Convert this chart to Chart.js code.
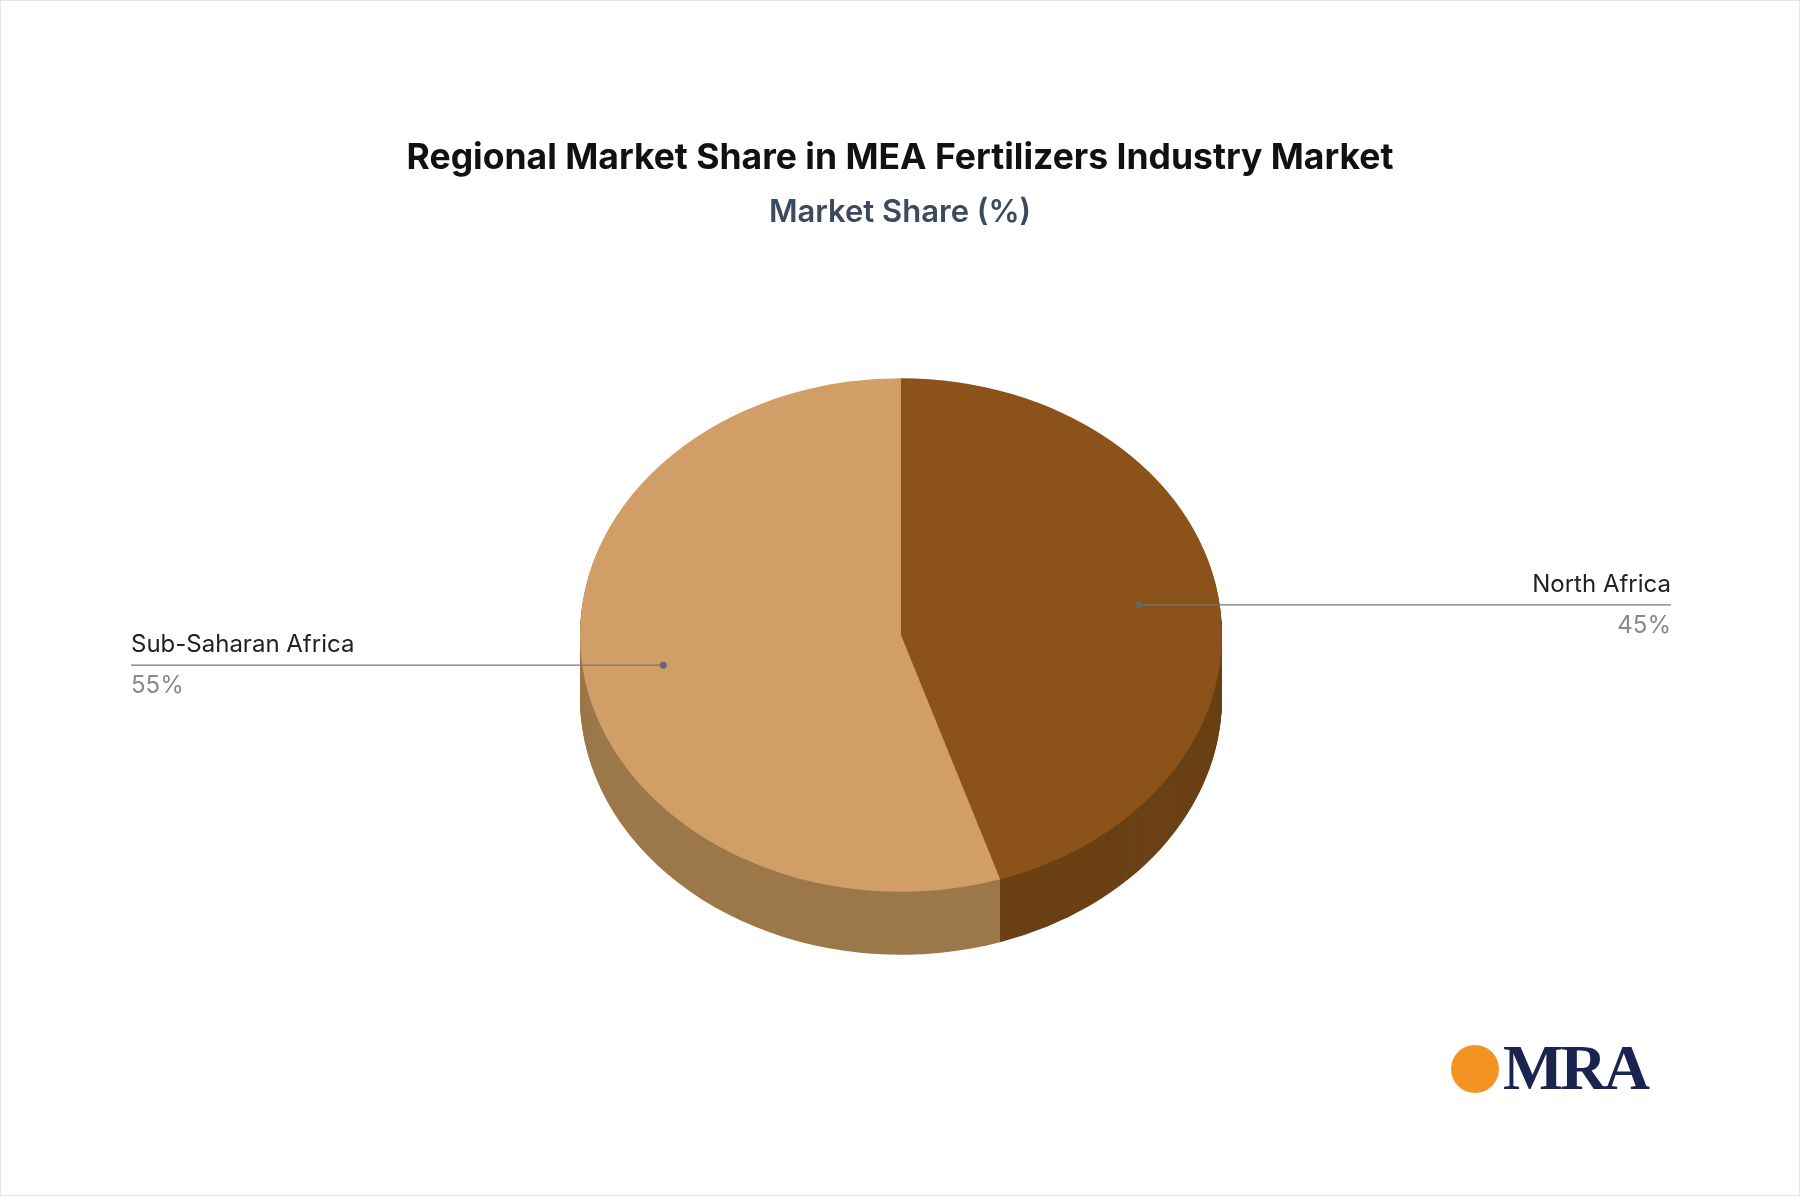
<!DOCTYPE html>
<html><head><meta charset="utf-8">
<script src="https://cdn.jsdelivr.net/npm/chart.js@4/dist/chart.umd.min.js"></script>
<style>
body{margin:0;background:#fff;font-family:Inter,Roboto,sans-serif}
#wrap{position:relative;width:1798px;height:1194px;border:1px solid #e6e6e6}
#logo{position:absolute;left:1450px;top:1030px;font:700 64px "Liberation Serif",serif;color:#1b2350;letter-spacing:-3px}
#logo span{display:inline-block;width:48px;height:48px;border-radius:50%;background:#f39321;margin-right:4px;vertical-align:-4px}
</style></head><body>
<div id="wrap"><canvas id="c" width="1798" height="1194"></canvas>
<div id="logo"><span></span>MRA</div></div>
<script>
const regions = ["North Africa", "Sub-Saharan Africa"];
const shares = [45, 55];
const colors = ["#8B5319", "#D09E66"];
const sideColors = ["#6A4114", "#9C784A"];

const CX = 900, CY = 634, SQ = 0.8, DEPTH = 63;

const pie3d = {
  id: "pie3d",
  beforeDatasetsDraw(chart) {
    const ctx = chart.ctx, meta = chart.getDatasetMeta(0);
    const a = meta.data[0];
    ctx.save();
    ctx.translate(CX, CY);
    ctx.scale(1, SQ);
    ctx.translate(-a.x, -a.y);
    for (let d = DEPTH; d > 0; d--) {
      meta.data.forEach((arc, i) => {
        ctx.beginPath();
        ctx.moveTo(arc.x, arc.y + d / SQ);
        ctx.arc(arc.x, arc.y + d / SQ, arc.outerRadius, arc.startAngle, arc.endAngle);
        ctx.closePath();
        ctx.fillStyle = sideColors[i];
        ctx.fill();
      });
    }
  },
  afterDatasetsDraw(chart) {
    chart.ctx.restore();
    const ctx = chart.ctx, meta = chart.getDatasetMeta(0);
    meta.data.forEach((arc, i) => {
      const mid = (arc.startAngle + arc.endAngle) / 2;
      const px = CX + Math.cos(mid) * arc.outerRadius * 0.75;
      const py = CY + Math.sin(mid) * arc.outerRadius * 0.75 * SQ;
      const right = Math.cos(mid) > 0;
      const ex = right ? 1670 : 130;
      ctx.strokeStyle = "#777"; ctx.lineWidth = 1.3;
      ctx.beginPath(); ctx.moveTo(px, py); ctx.lineTo(ex, py); ctx.stroke();
      ctx.fillStyle = "#666";
      ctx.beginPath(); ctx.arc(px, py, 3.5, 0, Math.PI * 2); ctx.fill();
      ctx.textAlign = right ? "right" : "left";
      ctx.font = "24px Inter, Roboto, sans-serif";
      ctx.fillStyle = "#222"; ctx.textBaseline = "bottom";
      ctx.fillText(regions[i], ex, py - 8);
      ctx.fillStyle = "#8a8a8a"; ctx.textBaseline = "top";
      ctx.fillText(shares[i] + "%", ex, py + 9);
    });
  }
};

new Chart(document.getElementById("c"), {
  type: "pie",
  data: {
    labels: regions,
    datasets: [{ data: shares, backgroundColor: colors, borderWidth: 0, radius: 321 }]
  },
  options: {
    responsive: false,
    animation: false,
    layout: { padding: { top: 40 } },
    plugins: {
      legend: { display: false },
      tooltip: { enabled: false },
      title: { display: true, text: "Regional Market Share in MEA Fertilizers Industry Market",
        color: "#111", font: { family: "Inter", size: 35.5, weight: "bold" }, padding: { top: 96, bottom: 14 } },
      subtitle: { display: true, text: "Market Share (%)",
        color: "#3B4A5C", font: { family: "Inter", size: 31, weight: "600" }, padding: { bottom: 20 } }
    }
  },
  plugins: [pie3d]
});
</script></body></html>
